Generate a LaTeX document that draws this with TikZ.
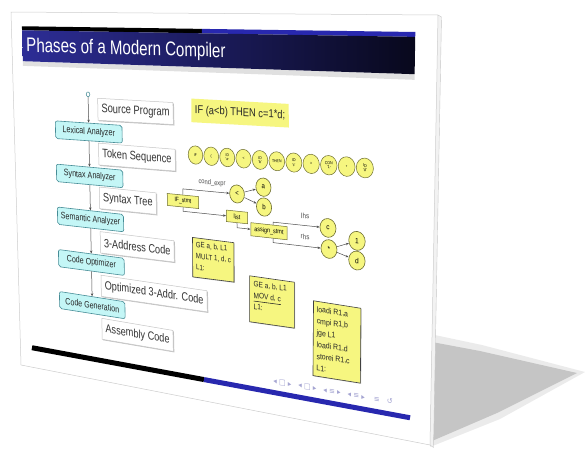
\documentclass[tikz,border=0pt]{standalone}
\usepackage{fontspec}
\setmainfont{Liberation Sans}
\newfontfamily\dejavu{DejaVu Sans}
\usetikzlibrary{arrows.meta,shadows}

\definecolor{anaFill}{RGB}{196,246,246}
\definecolor{anaDraw}{RGB}{70,140,150}
\definecolor{yel}{RGB}{246,246,128}
\definecolor{yelDraw}{RGB}{110,110,50}
\definecolor{hdrBlue}{RGB}{45,45,150}
\definecolor{hdrMid}{RGB}{30,30,105}
\definecolor{hdrDark}{RGB}{8,8,28}
\definecolor{barBlue}{RGB}{40,40,175}
\definecolor{navCol}{RGB}{165,165,210}

% homography: slide point (u,v) in pt (v downward) -> image point
\newcommand\HP[2]{%
  \pgfmathsetmacro\HPs{(#1)/364.2}%
  \pgfmathsetmacro\HPt{(#2)/273.1}%
  \pgfmathsetmacro\HPw{1-0.18658*\HPs+0.04036*\HPt}%
  \pgfmathsetmacro\HPx{(345.28*\HPs+10.848*\HPt+11)/\HPw}%
  \pgfmathsetmacro\HPy{-(0.201*\HPs+367.73*\HPt+12)/\HPw}}
\newcommand\HC[3]{\HP{#2}{#3}\coordinate (#1) at (\HPx pt,\HPy pt);}
\newcommand\HN[5]{%
  \HP{#2}{#3}\let\HNox\HPx\let\HNoy\HPy
  \HP{#2+10}{#3}%
  \pgfmathsetmacro\HNa{(\HPx-(\HNox))/10}\pgfmathsetmacro\HNb{(\HPy-(\HNoy))/10}%
  \HP{#2}{#3+10}%
  \pgfmathsetmacro\HNc{-(\HPx-(\HNox))/10}\pgfmathsetmacro\HNd{-(\HPy-(\HNoy))/10}%
  \begin{scope}[cm={\HNa,\HNb,\HNc,\HNd,(\HNox pt,\HNoy pt)}]
    \node[transform shape,#4] (#1) at (0,0) {#5};
  \end{scope}}

\tikzset{
  ana/.style={rounded corners=2pt, fill=anaFill, draw=anaDraw, line width=0.6pt,
    minimum width=65pt, minimum height=13pt, inner sep=1pt,
    font=\fontsize{7}{8}\selectfont, text=black!85},
  lbl/.style={fill=white, draw=gray!45, line width=0.5pt, minimum height=16pt,
    inner sep=3.5pt, anchor=west, font=\fontsize{9}{10}\selectfont, text=black!80,
    drop shadow={shadow xshift=1pt, shadow yshift=-1pt, fill=black!35, opacity=0.7}},
  tok/.style={circle, fill=yel, draw=yelDraw, line width=0.5pt, minimum size=12.8pt,
    inner sep=0pt, font=\fontsize{2.8}{3}\selectfont, align=center},
  tcirc/.style={circle, fill=yel, draw=yelDraw, line width=0.6pt, minimum size=12.5pt,
    inner sep=0pt, font=\fontsize{5}{6}\selectfont},
  trect/.style={fill=yel, draw=yelDraw, line width=0.5pt, minimum height=8.5pt,
    inner sep=1pt, font=\fontsize{4.5}{5}\selectfont},
  conn/.style={draw=black!70, line width=0.5pt, -{Stealth[length=3pt,width=2.4pt]}},
  small/.style={inner sep=0.5pt, font=\fontsize{5}{6}\selectfont, text=black!70},
  codebox/.style={fill=yel, draw=black!75, line width=0.6pt,
    drop shadow={shadow xshift=0.8pt, shadow yshift=-0.8pt, fill=black!35, opacity=0.6}},
  codetxt/.style={anchor=north west, inner sep=0pt, align=left,
    font=\fontsize{5.5}{8}\selectfont, text=black!85},
}

\begin{document}
\begin{tikzpicture}
\useasboundingbox (0,0) rectangle (586pt,-453pt);

% shadow of the slide
\fill[black, opacity=0.08] (430pt,-334pt) -- (482pt,-345pt) -- (585pt,-372pt)
  -- (500pt,-419pt) -- (430pt,-447pt) -- cycle;
\fill[black, opacity=0.16] (432pt,-342pt) -- (480pt,-351pt) -- (577pt,-373pt)
  -- (497pt,-413pt) -- (432pt,-441pt) -- cycle;

% slide panel
\HC{p1}{0}{0}\HC{p2}{364.2}{0}\HC{p3}{364.2}{273.1}\HC{p4}{0}{273.1}
\coordinate (q2) at (441.5pt,-17pt);
\coordinate (q3) at (433.5pt,-447.5pt);
\fill[gray!10] (p2) -- (q2) -- (q3) -- (p3) -- cycle;
\draw[gray!45, line width=0.4pt] (p2) -- (q2) -- (q3) -- (p3);
\fill[white] (p1) -- (p2) -- (p3) -- (p4) -- cycle;
\draw[gray!40, line width=0.5pt] (p1) -- (p2) -- (p3) -- (p4) -- cycle;

% header
\HC{s1}{11}{10.5}\HC{sm1}{181.5}{10.5}\HC{s2}{348.5}{10.5}
\HC{t1}{11}{13.5}\HC{tm}{181.5}{13.5}\HC{t2}{348.5}{13.5}
\HC{h3}{348.5}{36.5}\HC{h4}{11}{36.5}
\HC{g3}{348.5}{40}\HC{g4}{11}{40}
\fill[black, opacity=0.12] (h4) -- (h3) -- (g3) -- (g4) -- cycle;
\fill[black] (s1) -- (sm1) -- (tm) -- (t1) -- cycle;
\fill[barBlue] (sm1) -- (s2) -- (t2) -- (tm) -- cycle;
\shade[left color=hdrBlue, middle color=hdrMid, right color=hdrDark]
  (t1) -- (t2) -- (h3) -- (h4) -- cycle;
\HN{title}{113}{29.5}{anchor=base, text=white, inner sep=0pt, font=\fontsize{14}{16}\selectfont}{Phases of a Modern Compiler}

% footer
\HC{f1}{12.4}{257.5}\HC{fm}{181}{257.5}\HC{f2}{349.2}{257.5}
\draw[black, line width=5pt] (f1) -- (fm);
\draw[barBlue, line width=5pt] (fm) -- (f2);
\HN{nav}{290}{249.5}{inner sep=0pt, text=navCol, font=\dejavu\fontsize{5.5}{6}\selectfont}{◂ □ ▸\quad ◂ □ ▸\quad ◂ ≡ ▸\quad ◂ ≡ ▸\quad\ ≡\quad ↺}

% left column: phases
\HN{start}{76}{59}{circle, draw=anaDraw, fill=white, line width=0.5pt, minimum size=3.5pt, inner sep=0pt}{}
\HN{lex}{76}{86.5}{ana}{Lexical Analyzer}
\HN{syn}{76}{118.9}{ana}{Syntax Analyzer}
\HN{sem}{76}{151.3}{ana}{Semantic Analyzer}
\HN{opt}{76}{183.7}{ana}{Code Optimizer}
\HN{gen}{76}{216.1}{ana}{Code Generation}
\draw[conn] (start.south) -- (lex.north);
\draw[conn] (lex.south) -- (syn.north);
\draw[conn] (syn.south) -- (sem.north);
\draw[conn] (sem.south) -- (opt.north);
\draw[conn] (opt.south) -- (gen.north);

\HN{src}{85}{69.5}{lbl}{Source Program}
\HN{tks}{85}{102.2}{lbl}{Token Sequence}
\HN{tree}{85}{134.5}{lbl}{Syntax Tree}
\HN{tac}{85}{167.6}{lbl}{3-Address Code}
\HN{otac}{85}{200.3}{lbl}{Optimized 3-Addr. Code}
\HN{asm}{85}{233}{lbl}{Assembly Code}

% source program
\HN{srcbox}{213.6}{66.6}{fill=yel, minimum height=16pt, inner sep=3pt, font=\fontsize{7.8}{9}\selectfont, text=black!85}{IF (a<b) THEN c=1*d;}

% token sequence
\HN{k0}{175}{97.5}{tok}{IF}
\HN{k1}{188.8}{97.5}{tok}{(}
\HN{k2}{202.6}{97.5}{tok}{ID\\'a'}
\HN{k3}{216.4}{97.5}{tok}{<}
\HN{k4}{230.2}{97.5}{tok}{ID\\'b'}
\HN{k5}{244.0}{97.5}{tok}{THEN}
\HN{k6}{257.8}{97.5}{tok}{ID\\'c'}
\HN{k7}{271.6}{97.5}{tok}{=}
\HN{k8}{285.4}{97.5}{tok}{CON\\'1'}
\HN{k9}{299.2}{97.5}{tok}{*}
\HN{k10}{313.0}{97.5}{tok}{ID\\'d'}

% syntax tree
\HN{ifs}{163.5}{130.7}{trect, minimum width=28pt}{IF\_stmt}
\HN{lt}{210.8}{122.1}{tcirc}{<}
\HN{ca}{233}{115.8}{tcirc}{a}
\HN{cb}{233.5}{129.3}{tcirc}{b}
\HN{lst}{210.7}{138}{trect, minimum width=18pt, minimum height=8pt}{list}
\HN{asg}{237.6}{145.5}{trect, minimum width=30pt, minimum height=9pt}{assign\_stmt}
\HN{cc}{285.1}{139}{tcirc}{c}
\HN{cs}{286}{153}{tcirc}{*}
\HN{c1}{307.6}{145.5}{tcirc}{1}
\HN{cdd}{307.7}{158.5}{tcirc}{d}
\HN{condlbl}{189.3}{116.1}{small}{cond\_expr}
\HN{lhslbl}{267}{132.5}{small}{lhs}
\HN{rhslbl}{267}{146.5}{small}{rhs}

\HC{e1}{163.5}{122.1}
\HC{e2}{163.5}{138}
\HC{e3}{210.7}{145.5}
\HC{a4}{241}{141}\HC{e4}{241}{139}
\HC{a5}{241}{150}\HC{e5}{241}{153}
\draw[conn] (ifs.north) -- (e1) -- (lt.west);
\draw[conn] (ifs.south) -- (e2) -- (lst.west);
\draw[conn] (lst.south) -- (e3) -- (asg.west);
\draw[conn] (a4) -- (e4) -- (cc.west);
\draw[conn] (a5) -- (e5) -- (cs.west);
\draw[conn] (lt) -- (ca);
\draw[conn] (lt) -- (cb);
\draw[conn] (cs) -- (c1);
\draw[conn] (cs) -- (cdd);

% code boxes
\HN{b1}{190}{170}{codebox, minimum width=36pt, minimum height=28pt}{}
\HN{b1t}{174.5}{158.5}{codetxt}{GE a, b, L1\\MULT 1, d, c\\L1:}
\HN{b2}{240.1}{194.1}{codebox, minimum width=37pt, minimum height=32pt}{}
\HN{b2t}{224.5}{181}{codetxt}{GE a, b, L1\\\underline{MOV d, c}\\L1:}
\HN{b3}{292.8}{214.9}{codebox, minimum width=37pt, minimum height=51pt}{}
\HN{b3t}{276.5}{192.5}{codetxt}{loadi R1,a\\cmpi R1,b\\jge L1\\loadi R1,d\\storei R1,c\\L1:}
\end{tikzpicture}
\end{document}
